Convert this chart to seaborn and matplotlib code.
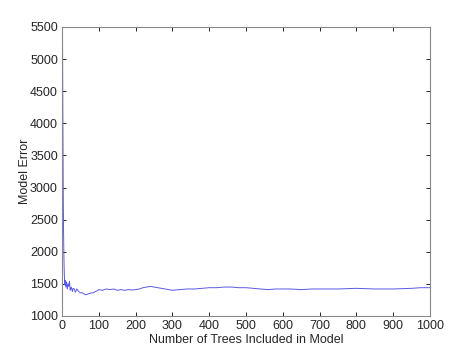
import matplotlib
matplotlib.use("Agg")
import matplotlib.pyplot as plt
import seaborn as sns
import pandas as pd

trees = [1, 2, 3, 4, 5, 6, 7, 8, 9, 10, 12, 14, 16, 18, 20, 22, 25, 28, 30, 33, 36, 40,
         45, 50, 55, 60, 65, 70, 75, 80, 85, 90, 95, 100, 110, 120, 130, 140, 150, 160,
         170, 180, 190, 200, 210, 220, 230, 240, 250, 260, 270, 280, 290, 300, 320, 340,
         360, 380, 400, 420, 440, 460, 480, 500, 520, 540, 560, 580, 600, 620, 650, 680,
         700, 750, 800, 850, 900, 950, 975, 1000]
error = [5500, 4200, 3000, 2300, 1900, 1650, 1520, 1480, 1550, 1450, 1530, 1420, 1500,
         1460, 1540, 1400, 1450, 1380, 1430, 1420, 1370, 1420, 1380, 1360, 1360, 1340,
         1330, 1340, 1350, 1360, 1360, 1380, 1390, 1410, 1400, 1420, 1410, 1420, 1400,
         1410, 1400, 1410, 1405, 1410, 1420, 1440, 1450, 1460, 1450, 1440, 1430, 1420,
         1410, 1400, 1410, 1420, 1420, 1430, 1440, 1440, 1450, 1450, 1440, 1440, 1430,
         1420, 1410, 1420, 1420, 1420, 1410, 1420, 1420, 1420, 1430, 1420, 1420, 1430,
         1440, 1440]
xticks = list(range(0, 1001, 100))
yticks = list(range(1000, 5501, 500))

sns.set_style("white")
plt.rcParams['font.family'] = ['Liberation Sans', 'DejaVu Sans']
plt.rcParams['xtick.direction'] = 'in'
plt.rcParams['ytick.direction'] = 'in'

df = pd.DataFrame({"trees": trees, "error": error})
fig = plt.figure(figsize=(4.74, 3.55), dpi=100)
ax = fig.add_axes([0.131, 0.110, 0.776, 0.814])
sns.lineplot(data=df, x="trees", y="error", ax=ax, color="#5a5ae6", linewidth=0.7)
ax.set_xlim(0, 1000)
ax.set_ylim(1000, 5500)
ax.set_xticks(xticks)
ax.set_yticks(yticks)
ax.tick_params(axis='both', labelsize=9, length=3, width=0.7, color='#222222',
               bottom=True, left=True, top=True, right=True, direction='in', pad=3)
for s in ax.spines.values():
    s.set_color('#888888')
    s.set_linewidth(0.8)
ax.set_xlabel("Number of Trees Included in Model", fontsize=9, labelpad=1)
ax.set_ylabel("Model Error", fontsize=9)
ax.yaxis.set_label_coords(-0.085, 0.5)
fig.savefig("out.png", dpi=100)
